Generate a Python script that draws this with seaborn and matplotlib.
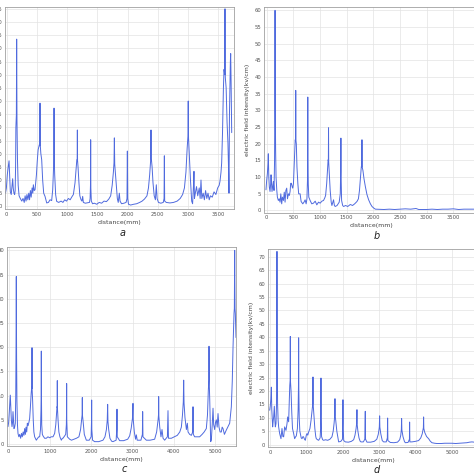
import matplotlib
matplotlib.use("Agg")
import matplotlib.pyplot as plt
import seaborn as sns
import numpy as np
import pandas as pd

# ---------------- data (distance mm, field kV/cm) ----------------
a_x = [-20, -5, 10, 25, 39, 50, 60, 75, 90, 99, 108, 120, 132, 140, 147, 152, 160, 165, 170, 178,
       190, 205, 225, 250, 270, 290, 305, 320, 335, 350, 365, 378, 392, 405, 420, 432, 441, 455,
       469, 480, 492, 505, 520, 540, 546, 551, 556, 565, 579, 595, 612, 634, 662, 690, 717, 744,
       761, 772, 779, 783, 787, 794, 810, 827, 860, 900, 930, 960, 990, 1020, 1050, 1075, 1103,
       1130, 1150, 1160, 1166, 1169, 1172, 1180, 1195, 1210, 1230, 1245, 1257, 1268, 1300, 1370,
       1380, 1386, 1389, 1392, 1400, 1420, 1450, 1490, 1530, 1570, 1610, 1650, 1690, 1720, 1745,
       1765, 1775, 1781, 1787, 1800, 1815, 1830, 1845, 1863, 1875, 1900, 1940, 1975, 1990, 1996,
       2002, 2015, 2050, 2100, 2150, 2200, 2240, 2280, 2320, 2345, 2365, 2380, 2387, 2393, 2405,
       2420, 2440, 2460, 2475, 2488, 2510, 2550, 2590, 2603, 2608, 2613, 2640, 2700, 2760, 2820,
       2870, 2910, 2940, 2965, 2985, 2998, 3003, 3008, 3020, 3040, 3060, 3075, 3090, 3098, 3106,
       3120, 3140, 3160, 3185, 3200, 3214, 3228, 3250, 3270, 3290, 3310, 3330, 3350, 3370, 3400,
       3430, 3460, 3490, 3515, 3528, 3545, 3556, 3570, 3585, 3595, 3606, 3611, 3616, 3630, 3645,
       3660, 3672, 3677, 3685, 3700, 3705, 3712, 3722]
a_y = [5, 7, 12, 15, 17.3, 11, 5.5, 4.5, 8, 10.5, 7, 5, 4.5, 6, 15, 30, 34.8, 63.5, 33, 18,
       8, 4, 3, 2, 3, 1.5, 4, 2, 4.5, 2.5, 5, 2.5, 6, 3.5, 7, 5, 8.2, 6,
       6.3, 9, 12, 17, 21.5, 23.4, 23, 39.2, 23, 20, 17.7, 10, 5, 3.8, 1.3, 1.5, 2.5, 2.2,
       6.3, 12.7, 18, 37.3, 18, 12, 4.4, 1.9, 1.5, 2, 1.5, 2.5, 2, 3, 2.5, 3.5, 4.5,
       8.9, 15, 17.7, 17.7, 29, 17.5, 15, 9, 4, 2.5, 2, 3.8, 1.5, 1.2, 1.5,
       3, 8, 25.3, 7, 2, 1, 1.2, 0.8, 1.5, 1.2, 2, 1.8, 2.8, 4, 8,
       13, 16.5, 26, 16, 12, 7, 3, 1.5, 5, 2, 1, 1.2, 1.5, 3, 21,
       3, 0.8, 0.5, 0.8, 1, 1.5, 2, 2.8, 4, 7, 12, 17, 29, 18, 15,
       9, 4, 2.5, 8.2, 3, 1.5, 1.2, 1.5, 3, 19.2, 2, 1.5, 1.3, 1.5, 2,
       3, 4.5, 7, 13, 22, 26.6, 40, 26, 20, 10, 2, 1, 8, 13.3, 3,
       5, 7.5, 4, 7, 3, 10, 3, 5, 2.5, 6, 3, 5, 2.5, 4, 3.5,
       5.5, 4.5, 7, 8, 9.5, 13, 16.5, 28, 45, 52, 50, 75, 49, 45, 32,
       24, 12, 5, 35, 55, 58, 47, 28]

b_x = [-13, 0, 13, 25, 31, 40, 50, 63, 75, 82, 92, 100, 115, 125, 138, 148, 153, 157, 161, 168,
       176, 190, 201, 219, 235, 251, 265, 282, 295, 314, 330, 345, 360, 376, 390, 408, 425, 439,
       450, 458, 470, 480, 489, 502, 515, 528, 535, 541, 545, 549, 556, 568, 585, 600, 627, 646,
       677, 700, 721, 740, 755, 765, 768, 771, 774, 780, 790, 815, 846, 878, 910, 940, 972, 1003,
       1035, 1066, 1090, 1105, 1125, 1140, 1152, 1157, 1160, 1163, 1175, 1191, 1210, 1223, 1240,
       1254, 1270, 1285, 1320, 1360, 1380, 1388, 1392, 1396, 1405, 1425, 1442, 1480, 1520, 1568,
       1610, 1650, 1693, 1720, 1740, 1760, 1775, 1783, 1787, 1791, 1805, 1825, 1850, 1880, 1912,
       1945, 1975, 2010, 2038, 2100, 2200, 2300, 2400, 2500, 2600, 2700, 2800, 2850, 2900, 3000,
       3100, 3200, 3300, 3400, 3500, 3600, 3700, 3800, 3900, 4000]
b_y = [6.2, 9, 11, 14, 17, 10, 7, 5.7, 8, 10.7, 8, 5.7, 7.5, 8.7, 6, 15, 32.7, 60, 32, 18,
       10, 6, 4, 3, 3.5, 2.5, 5, 2, 4, 3, 5.5, 2.5, 6, 6.7, 3.5, 5, 4.5, 5.7,
       8, 8.2, 7.7, 7, 6.7, 8, 13, 18, 21.2, 21, 36, 21, 20, 13, 8, 5, 5, 2.7,
       2, 2.5, 3.2, 2, 3.5, 9, 16.7, 34, 16, 8, 4, 3, 2, 2.2, 2.8, 1.7, 2.5, 2.2,
       2.8, 3, 3.8, 4.5, 8, 12, 15.2, 15, 24.8, 14.5, 11, 6, 2.5, 1.5, 2.5,
       3.2, 1.5, 1.2, 1.5, 2.5, 5, 11.7, 21.7, 10, 3, 1.5, 1.2, 1.5, 1.2, 1.8,
       1.5, 2, 2.7, 3.5, 6, 10, 13.2, 13, 21.2, 13, 12, 9.5, 7.2, 4.8, 3.2,
       2, 1.2, 0.7, 0.4, 0.35, 0.3, 0.4, 0.3, 0.4, 0.5, 0.4, 0.6, 0.3, 0.3, 0.3,
       0.4, 0.3, 0.4, 0.4, 0.5, 0.3, 0.4, 0.4, 0.4, 0.4]

c_x = [-16, 0, 8, 25, 40, 55, 65, 81, 95, 105, 117, 129, 145, 161, 172, 178, 185, 192, 200, 213,
       226, 246, 266, 290, 310, 330, 350, 370, 387, 405, 420, 437, 452, 470, 490, 508, 525, 545,
       558, 562, 565, 568, 580, 595, 610, 629, 669, 700, 730, 750, 770, 782, 786, 790, 794, 800,
       815, 831, 870, 911, 950, 992, 1030, 1073, 1113, 1140, 1160, 1170, 1174, 1177, 1180, 1195,
       1215, 1240, 1274, 1300, 1315, 1380, 1396, 1400, 1403, 1406, 1420, 1476, 1520, 1580, 1640,
       1700, 1740, 1765, 1777, 1782, 1787, 1800, 1830, 1879, 1950, 1995, 2004, 2008, 2012, 2030,
       2081, 2180, 2282, 2330, 2365, 2385, 2395, 2402, 2420, 2450, 2490, 2524, 2600, 2615, 2621,
       2627, 2686, 2780, 2880, 2928, 2965, 2995, 3008, 3015, 3040, 3070, 3089, 3110, 3200, 3235,
       3242, 3249, 3331, 3420, 3532, 3580, 3615, 3625, 3629, 3634, 3655, 3685, 3710, 3735, 3774,
       3840, 3855, 3866, 3936, 4010, 4080, 4140, 4178, 4205, 4225, 4234, 4243, 4265, 4300, 4323,
       4340, 4379, 4420, 4452, 4460, 4468, 4500, 4560, 4620, 4680, 4730, 4782, 4810, 4830, 4843,
       4847, 4852, 4865, 4880, 4887, 4903, 4925, 4944, 4960, 4984, 5005, 5024, 5045, 5065, 5089,
       5115, 5145, 5165, 5186, 5220, 5266, 5300, 5347, 5387, 5410, 5428, 5452, 5460, 5468, 5476,
       5484, 5500]
c_y = [3.6, 4.5, 5.6, 8, 10.1, 7, 5, 3.6, 4.5, 6.7, 5, 3.2, 3.5, 4.3, 10, 18.7, 34.6, 18, 9, 4,
       2.2, 1.5, 2, 1.2, 2.2, 1.5, 2.5, 1.8, 3.2, 2, 3.5, 2.5, 4.3, 3.8, 4.5, 5.3, 7.5, 10.5,
       11.8, 11.5, 19.9, 11.3, 9, 5, 2.5, 1.5, 0.8, 1.2, 1.5, 1.5, 3, 7, 9.8, 19.2, 9.5, 4,
       2, 1.7, 1.2, 1.2, 1.5, 1.3, 1.5, 1.5, 2.2, 4, 6.5, 7.7, 7.6, 13.1, 7.5, 5,
       2.5, 1.5, 0.8, 1.2, 1.2, 2, 4, 6.3, 12.5, 5, 1.5, 1, 0.8, 1, 1.2,
       1.5, 3, 5, 6, 9.6, 5.8, 4.8, 2, 0.8, 0.8, 1.5, 4.5, 9.1, 3, 0.8,
       0.5, 0.5, 0.8, 1.5, 3, 4.9, 8.2, 4.7, 3, 1.2, 0.6, 0.5, 0.8, 3, 7.2,
       1.5, 0.7, 0.7, 1, 1.7, 3.3, 5.3, 8.4, 5, 2.5, 1, 1.9, 0.8, 0.8, 2,
       6.7, 1.5, 0.8, 0.8, 1, 2.5, 5, 6, 9.8, 5.8, 3.5, 1.5, 3, 1.2, 0.8,
       1.5, 6.9, 1.2, 1.2, 1.5, 1.8, 2.5, 3.5, 6, 8.7, 13.2, 8.5, 5.5, 3, 4.3,
       2.5, 2, 1.8, 2.5, 7.7, 2, 1.5, 1.5, 1.5, 2, 2.5, 3.2, 6, 11, 13.2,
       20.2, 13, 9, 3, 0.5, 0.8, 4, 7.4, 4, 3, 4.5, 5, 3.5, 6.3, 3.5,
       2.5, 2.5, 3.5, 3.2, 2, 2.9, 3.5, 4.3, 7.7, 13, 20, 27, 28, 40, 28,
       27, 22]

d_x = [-18, 0, 15, 28, 40, 46, 64, 80, 92, 110, 125, 138, 156, 170, 176, 183, 190, 200, 215, 229,
       257, 293, 321, 345, 367, 394, 431, 459, 477, 504, 520, 535, 545, 550, 555, 570, 590, 610,
       642, 669, 700, 715, 745, 765, 775, 779, 784, 795, 812, 825, 850, 871, 900, 917, 940, 963,
       990, 1009, 1030, 1055, 1090, 1120, 1150, 1168, 1174, 1180, 1200, 1225, 1250, 1265, 1300,
       1330, 1370, 1385, 1390, 1394, 1398, 1410, 1440, 1467, 1520, 1580, 1640, 1696, 1730, 1755,
       1772, 1779, 1786, 1800, 1830, 1860, 1880, 1940, 1985, 1995, 1999, 2003, 2020, 2063, 2150,
       2230, 2293, 2330, 2360, 2375, 2384, 2390, 2410, 2440, 2470, 2494, 2560, 2600, 2613, 2620,
       2660, 2760, 2860, 2930, 2970, 2995, 3000, 3008, 3014, 3040, 3080, 3118, 3190, 3220, 3228,
       3235, 3301, 3400, 3500, 3560, 3590, 3606, 3613, 3620, 3650, 3690, 3714, 3790, 3828, 3833,
       3840, 3897, 3990, 4081, 4140, 4180, 4205, 4212, 4218, 4224, 4250, 4300, 4356, 4400, 4447,
       4520, 4585, 4700, 4800, 4900, 5000, 5100, 5200, 5300, 5410, 5480, 5548, 5600, 5700]
d_y = [12.8, 14.6, 17, 21.4, 13, 11.5, 6.6, 9, 10.3, 14.3, 9, 6.6, 7.8, 15, 33.2, 72, 33, 15, 9, 6.6,
       4.1, 2.2, 6, 3, 2.9, 6.6, 5.3, 7.8, 10.3, 8.5, 15, 22, 23.9, 40.3, 23.5, 20, 12, 6,
       4.1, 2.2, 3, 3.2, 6, 13, 22, 39.8, 21, 10, 5, 4.1, 2.5, 2.2, 3, 2.8, 2, 1.6,
       3.5, 4.1, 3.5, 4.7, 6, 9, 13, 15.2, 25.2, 14.8, 11, 6, 3, 2.2, 1.8,
       1.6, 2.5, 6, 11.5, 24.8, 10, 3, 1.8, 1.6, 1.8, 1.6, 2, 2.9, 5, 8,
       10.9, 17.1, 10.5, 9, 5, 2.5, 1, 1.2, 2, 8, 16.7, 6, 1.5, 1, 0.9,
       1.2, 1.8, 3.5, 6, 7.8, 13, 7.5, 5, 2.5, 1.3, 1, 1, 2, 12.4, 2,
       0.9, 0.9, 1.2, 2, 3.8, 6, 6.8, 10.7, 6.5, 4, 1.5, 1, 1, 2.5, 9.9,
       1.5, 0.8, 0.7, 0.9, 1.8, 3.5, 5.7, 9.7, 5.5, 3, 1.2, 0.7, 0.8, 2, 8.4,
       1, 1, 1.2, 1.5, 2.5, 4, 5.8, 6.3, 10.3, 6, 4.5, 3, 2.2, 1.3, 0.7,
       0.5, 0.4, 0.4, 0.5, 0.5, 0.5, 0.4, 0.5, 0.6, 0.7, 0.9, 1, 0.9, 0.8]

panel_letters = ["a", "b", "c", "d"]
x_label = "distance(mm)"
y_label = "electric field intensity(kv/cm)"

# ---------------- style ----------------
sns.set_theme(style="whitegrid")
plt.rcParams["font.family"] = ["DejaVu Sans"]
LINE = "#4f6ade"

W = H = 474
fig = plt.figure(figsize=(4.74, 4.74), dpi=100)
fig.patch.set_facecolor("white")


def px_axes(l, t, r, b):
    return fig.add_axes([l / W, 1 - b / H, (r - l) / W, (b - t) / H])


panels = [
    dict(x=a_x, y=a_y, box=(5, 7, 234, 209), xlim=(-28, 3760), ylim=(-1, 75.7),
         xt=np.arange(0, 3501, 500), yt=np.arange(0, 76, 5), let=(123, 233)),
    dict(x=b_x, y=b_y, box=(264, 7, 480, 212.5), xlim=(-50, 4000), ylim=(-0.6, 61),
         xt=np.arange(0, 3501, 500), yt=np.arange(0, 61, 5), let=(377, 236)),
    dict(x=c_x, y=c_y, box=(7, 247, 236, 446), xlim=(-40, 5500), ylim=(-0.4, 40.7),
         xt=np.arange(0, 5001, 1000), yt=np.arange(0, 41, 5), let=(124, 469)),
    dict(x=d_x, y=d_y, box=(268, 249, 480, 447), xlim=(-64, 5770), ylim=(-0.9, 72.9),
         xt=np.arange(0, 5001, 1000), yt=np.arange(0, 71, 5), let=(377, 470)),
]

for p, letter in zip(panels, panel_letters):
    ax = px_axes(*p["box"])
    df = pd.DataFrame({"distance": p["x"], "field": p["y"]})
    sns.lineplot(data=df, x="distance", y="field", ax=ax, color=LINE, lw=0.7,
                 sort=False, estimator=None)
    ax.set_xlim(*p["xlim"])
    ax.set_ylim(*p["ylim"])
    ax.set_xticks(p["xt"])
    ax.set_yticks(p["yt"])
    ax.grid(True, color="#e3e3e3", lw=0.5)
    for s in ax.spines.values():
        s.set_color("#a0a0a0")
        s.set_linewidth(0.6)
    ax.tick_params(labelsize=3.8, colors="#555555", length=0, pad=2)
    ax.set_xlabel(x_label, fontsize=4.5, color="#444444", labelpad=2)
    ax.set_ylabel(y_label, fontsize=4.5, color="#444444", labelpad=3)
    fig.text(p["let"][0] / W, 1 - p["let"][1] / H, letter, fontsize=7, style="italic",
             ha="center", va="center", color="#222222")

fig.savefig("out.png", dpi=100, facecolor="white")
